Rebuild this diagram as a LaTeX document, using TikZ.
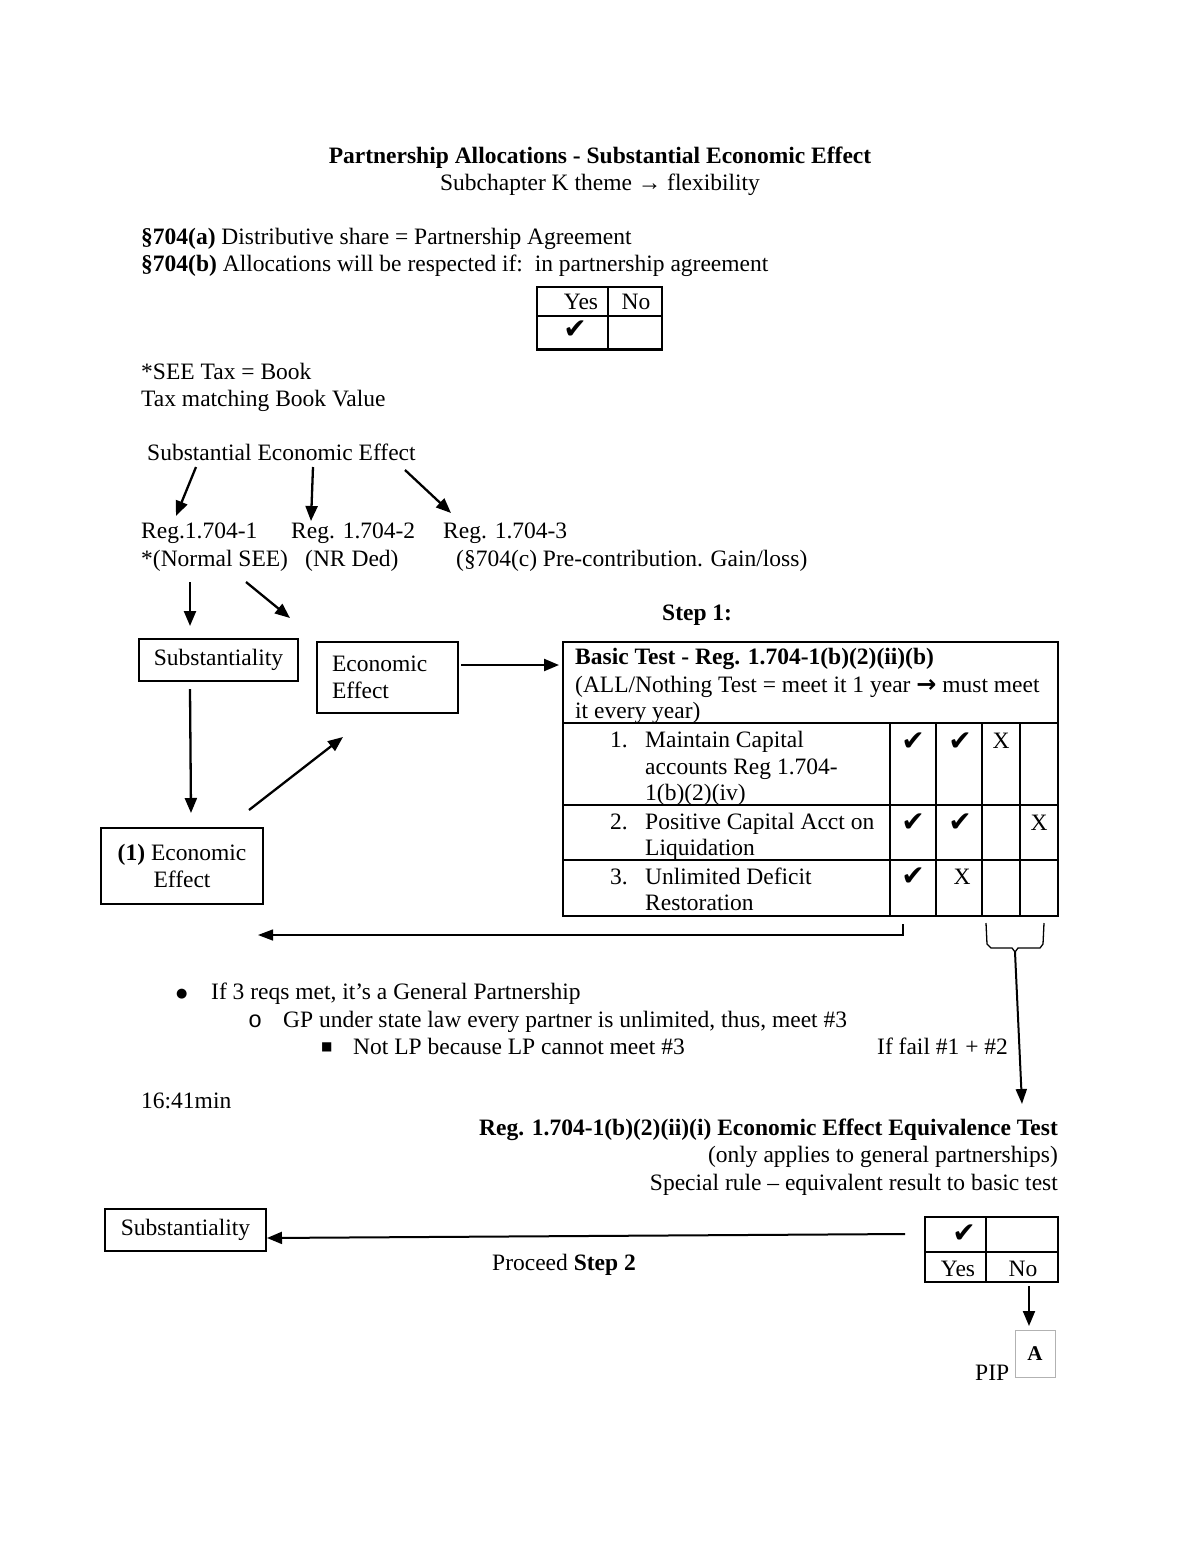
\documentclass[tikz,border=0pt]{standalone}
\usepackage{fontspec}
\setmainfont{Liberation Serif}
\newfontfamily\djv{DejaVu Sans}
\newfontfamily\monof{Liberation Mono}
\usetikzlibrary{arrows.meta}
\newcommand{\fs}{\fontsize{23.5}{27}\selectfont}
\newcommand{\chk}{{\djv\fontsize{28}{28}\selectfont ✔}}
\begin{document}
\begin{tikzpicture}[x=1pt,y=-1pt,
  txt/.style={inner sep=0pt, anchor=base west, font=\fs},
  txtr/.style={inner sep=0pt, anchor=base east, font=\fs},
  txtc/.style={inner sep=0pt, anchor=base, font=\fs},
  cellmk/.style={inner sep=0pt, anchor=center, font=\fs},
  boxnode/.style={draw, line width=1.3pt, inner sep=0pt, font=\fs, align=center},
  arr/.style={line width=2.3pt, -{Triangle[length=15pt,width=12pt]}},
  thinarr/.style={line width=1.3pt, -{Triangle[length=15pt,width=11pt]}},
  thinln/.style={line width=1.3pt},
  thickln/.style={line width=2.6pt}]
\fill[white] (0,0) rectangle (1200,1553);
\useasboundingbox (0,0) rectangle (1200,1553);

% title
\node[txtc, font=\fs\bfseries] (title) at (600,163) {Partnership Allocations - Substantial Economic Effect};
\node[txtc] (sub) at (600,190) {Subchapter K theme → flexibility};

\node[txt] (s704a) at (141,244) {\textbf{§704(a)} Distributive share = Partnership Agreement};
\node[txt] (s704b) at (141,271) {\textbf{§704(b)} Allocations will be respected if:\ \ in partnership agreement};

% small table 1
\draw[line width=2pt] (537,287) rectangle (662,350);
\draw[line width=3pt] (537,349) -- (662,349);
\draw[line width=2pt] (608,287) -- (608,350);
\draw[thinln] (537,316) -- (662,316);
\node[txtc] (yes1) at (581,309) {Yes};
\node[txtc] (no1) at (636,309) {No};
\node[cellmk] (chk1) at (575,330) {\chk};

\node[txt] (seeA) at (141,379) {*SEE Tax = Book};
\node[txt] (seeB) at (141,406) {Tax matching Book Value};

\node[txt] (see) at (147,460) {Substantial Economic Effect};

\node[txt] (reg1) at (141,538) {Reg.1.704-1};
\node[txt] (reg2) at (291,538) {Reg. 1.704-2};
\node[txt] (reg3) at (443,538) {Reg. 1.704-3};
\node[txt] (reg1b) at (141,566) {*(Normal SEE)};
\node[txt] (reg2b) at (305,566) {(NR Ded)};
\node[txt] (reg3b) at (456,566) {(§704(c) Pre-contribution. Gain/loss)};

\coordinate (a1s) at (196,467); \coordinate (a1e) at (176,516);
\coordinate (a2s) at (313,467); \coordinate (a2e) at (311,521);
\coordinate (a3s) at (405,470); \coordinate (a3e) at (451,513);
\draw[arr] (a1s) -- (a1e);
\draw[arr] (a2s) -- (a2e);
\draw[arr] (a3s) -- (a3e);

\coordinate (a4s) at (190,582); \coordinate (a4e) at (190,626);
\coordinate (a5s) at (246,582); \coordinate (a5e) at (290,618);
\draw[arr] (a4s) -- (a4e);
\draw[arr] (a5s) -- (a5e);

\node[txt, font=\fs\bfseries] (step1) at (662,620) {Step 1:};

% boxes
\node[boxnode, minimum width=159pt, minimum height=42pt] (subst) at (218.5,660) {Substantiality};
\node[boxnode, minimum width=141pt, minimum height=71pt, text width=111pt, align=left] (econ) at (387.5,677.5) {Economic\\Effect};
\node[boxnode, minimum width=162pt, minimum height=76pt] (econ1) at (182,866) {\textbf{(1)} Economic\\Effect};

\coordinate (a6s) at (461,665); \coordinate (a6e) at (559,665);
\draw[arr] (a6s) -- (a6e);
\coordinate (a7s) at (190,689); \coordinate (a7e) at (191,813);
\draw[arr] (a7s) -- (a7e);
\coordinate (a8s) at (249,810); \coordinate (a8e) at (343,737);
\draw[arr] (a8s) -- (a8e);

% big table
\draw[line width=2.3pt] (563,642) rectangle (1058,916);
\draw[thinln] (563,723) -- (1058,723);
\draw[thickln] (563,805) -- (1058,805);
\draw[thickln] (563,860) -- (1058,860);
\draw[thinln] (890,723) -- (890,916);
\draw[thickln] (936,723) -- (936,916);
\draw[thinln] (982,723) -- (982,916);
\draw[thinln] (1020,723) -- (1020,916);

\node[txt, font=\fs\bfseries] (bt1) at (575,664) {Basic Test - Reg. 1.704-1(b)(2)(ii)(b)};
\node[txt] (bt2) at (575,692) {(ALL/Nothing Test = meet it 1 year {\djv\bfseries\fontsize{24}{24}\selectfont →} must meet};
\node[txt] (bt3) at (575,718) {it every year)};

\node[txt] (n1) at (610,747) {1.};
\node[txt] (r1a) at (645,747) {Maintain Capital};
\node[txt] (r1b) at (645,774) {accounts Reg 1.704-};
\node[txt] (r1c) at (645,800) {1(b)(2)(iv)};
\node[txt] (n2) at (610,829) {2.};
\node[txt] (r2a) at (645,829) {Positive Capital Acct on};
\node[txt] (r2b) at (645,855) {Liquidation};
\node[txt] (n3) at (610,884) {3.};
\node[txt] (r3a) at (645,884) {Unlimited Deficit};
\node[txt] (r3b) at (645,910) {Restoration};

\node[cellmk] (m11) at (913,742) {\chk};
\node[cellmk] (m12) at (960,742) {\chk};
\node[txtc] (m13) at (1001,748) {X};
\node[cellmk] (m21) at (913,823) {\chk};
\node[cellmk] (m22) at (960,823) {\chk};
\node[txtc] (m24) at (1039,830) {X};
\node[cellmk] (m31) at (913,877) {\chk};
\node[txtc] (m32) at (962,884) {X};

% return arrow
\coordinate (b1) at (903,924); \coordinate (b2) at (903,935); \coordinate (b3) at (258,935);
\draw[thinarr] (b1) -- (b2) -- (b3);

% brace
\coordinate (brL) at (986,923); \coordinate (brR) at (1044,923);
\coordinate (brM) at (1015,952); \coordinate (brE) at (1022,1104);
\draw[thinln] (brL) -- (987,944) -- (991,948) -- (1012,948) -- (brM) -- (1018,948) -- (1040,948) -- (1043,944) -- (brR);
\draw[line width=2pt, -{Triangle[length=15pt,width=11pt]}] (brM) -- (brE);

% bullets
\node[txt, font=\djv\fontsize{13}{13}\selectfont] (bul1) at (176,997) {●};
\node[txt] (bt1t) at (211,999) {If 3 reqs met, it’s a General Partnership};
\node[txt, font=\fs\monof] (bul2) at (248,1027) {o};
\node[txt, font=\djv\fontsize{12}{12}\selectfont] (bul3) at (321,1050) {■};
\node[txt] (bt3t) at (353,1054) {Not LP because LP cannot meet \#3};
\node[txt] (bt2t) at (283,1027) {GP under state law every partner is unlimited, thus, meet \#3};
\node[txt] (fail) at (877,1054) {If fail \#1 + \#2};

\node[txt] (time) at (141,1108) {16:41min};

\node[txtr, font=\fs\bfseries] (eq1) at (1058,1135) {Reg. 1.704-1(b)(2)(ii)(i) Economic Effect Equivalence Test};
\node[txtr] (eq2) at (1058,1162) {(only applies to general partnerships)};
\node[txtr] (eq3) at (1058,1190) {Special rule – equivalent result to basic test};

\node[boxnode, minimum width=161pt, minimum height=42pt] (subst2) at (185.5,1230) {Substantiality};

% small table 2
\draw[line width=2pt] (925,1217) rectangle (1058,1282);
\draw[thickln] (925,1252) -- (1058,1252);
\draw[thinln] (986,1217) -- (986,1282);
\node[cellmk] (chk2) at (964,1234) {\chk};
\node[txtc] (yes2) at (958,1276) {Yes};
\node[txtc] (no2) at (1023,1276) {No};

\coordinate (c1s) at (905,1234); \coordinate (c1e) at (267,1238);
\draw[arr, line width=2pt] (c1s) -- (c1e);
\node[txt] (proc) at (492,1270) {Proceed \textbf{Step 2}};

\coordinate (d1s) at (1029,1286); \coordinate (d1e) at (1029,1326);
\draw[arr, line width=2pt] (d1s) -- (d1e);

\node[draw=gray!60, line width=1pt, minimum width=40pt, minimum height=47pt, inner sep=0pt, font=\fontsize{21}{21}\selectfont\bfseries] (abox) at (1035,1353.5) {A};
\node[txt] (pip) at (975,1380) {PIP};
\end{tikzpicture}
\end{document}
